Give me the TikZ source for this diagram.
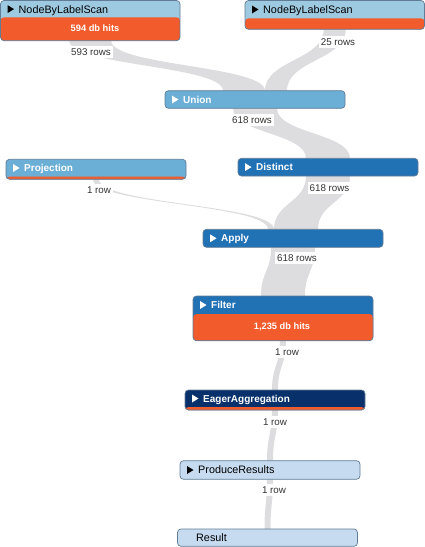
\documentclass[tikz,border=0pt]{standalone}
\usepackage{fontspec}
\setmainfont{Liberation Sans}
\usetikzlibrary{calc}
\pgfdeclarelayer{bg}
\pgfsetlayers{bg,main}
\definecolor{hdrlight}{HTML}{9ECAE1}
\definecolor{hitcol}{HTML}{F25B2B}
\definecolor{midblue}{HTML}{6BAED6}
\definecolor{darkblue}{HTML}{2171B5}
\definecolor{navy}{HTML}{08306B}
\definecolor{pale}{HTML}{C6DBEF}
\definecolor{flowcol}{HTML}{DDDDDF}
\definecolor{boxborder}{HTML}{607C96}
\definecolor{rowtext}{HTML}{333333}
\tikzset{
  opbox/.style={draw=boxborder, line width=0.7pt, rounded corners=3.5pt, anchor=north west,
    inner sep=0pt, outer sep=0pt, minimum width=180pt},
  hitband/.style={path picture={\fill[hitcol] ([yshift=-#1]path picture bounding box.north west)
    rectangle (path picture bounding box.south east);}},
  titleW/.style={anchor=west, text=white, font=\fontsize{10}{12}\selectfont\bfseries,
    inner sep=0pt, text height=7.2pt, text depth=0pt},
  titleK/.style={anchor=west, text=black, font=\fontsize{10.8}{13}\selectfont,
    inner sep=0pt, text height=7.8pt, text depth=0pt},
  hitsty/.style={text=white, font=\fontsize{9.3}{11}\selectfont\bfseries, inner sep=0pt,
    text height=6.8pt, text depth=0pt},
  rowsty/.style={text=rowtext, fill=white, font=\fontsize{9.8}{12}\selectfont, inner xsep=2pt,
    inner ysep=2.5pt, text height=7pt, text depth=0pt},
  flow/.style={fill=flowcol},
  pics/play/.style={code={\fill[#1] (0pt,4pt) -- (6.5pt,0pt) -- (0pt,-4pt) -- cycle;}}
}
\newcommand\optitle[5]{%
  \pic at ($(#1.north west)+(7pt,-#2)$) {play=#4};
  \node[title#3] (#1-t) at ($(#1.north west)+(18pt,-#2)$) {#5};}
\newcommand\flowband[3]{%
  \fill[flow] let \p1=#1, \p2=#2, \p3=($#1!0.5!#2$) in
   (\x1-#3/2,\y1) .. controls (\x1-#3/2,\y3) and (\x2-#3/2,\y3) .. (\x2-#3/2,\y2)
   -- (\x2+#3/2,\y2) .. controls (\x2+#3/2,\y3) and (\x1+#3/2,\y3) .. (\x1+#3/2,\y1) -- cycle;}
\begin{document}
\begin{tikzpicture}[x=1pt,y=-1pt]
\useasboundingbox (0,0) rectangle (425,547);
% boxes
\node[opbox, minimum width=179.5pt, minimum height=40.2pt, fill=hdrlight, hitband=16.8pt] (scanA) at (0.5,0.5) {};
\node[opbox, minimum width=179.5pt, minimum height=28.8pt, fill=hdrlight, hitband=17.8pt] (scanB) at (245,0.5) {};
\node[opbox, minimum height=17.6pt, fill=midblue] (union) at (165,90.7) {};
\node[opbox, minimum height=20pt, fill=midblue, hitband=17.4pt] (proj) at (6,159.3) {};
\node[opbox, minimum height=17.7pt, fill=darkblue] (distinct) at (238,158.3) {};
\node[opbox, minimum height=18pt, fill=darkblue] (apply) at (203,229.3) {};
\node[opbox, minimum height=44.7pt, fill=darkblue, hitband=18pt] (filter) at (193,296) {};
\node[opbox, minimum height=20pt, fill=navy, hitband=17pt] (eager) at (185,390) {};
\node[opbox, minimum height=18.6pt, fill=pale] (produce) at (180,460.7) {};
\node[opbox, minimum height=17.3pt, fill=pale] (result) at (177.5,529) {};
% titles
\optitle{scanA}{8.6pt}{K}{black}{NodeByLabelScan}
\optitle{scanB}{9pt}{K}{black}{NodeByLabelScan}
\optitle{union}{8.8pt}{W}{white}{Union}
\optitle{proj}{8.7pt}{W}{white}{Projection}
\optitle{distinct}{8.8pt}{W}{white}{Distinct}
\optitle{apply}{9pt}{W}{white}{Apply}
\optitle{filter}{9pt}{W}{white}{Filter}
\optitle{eager}{8.5pt}{W}{white}{EagerAggregation}
\optitle{produce}{9.3pt}{K}{black}{ProduceResults}
\node[titleK] (result-t) at ($(result.north west)+(18.5pt,-9pt)$) {Result};
% db hits
\node[hitsty] (scanA-h) at (95,28.5) {594 db hits};
\node[hitsty] (filter-h) at (282,326.5) {1,235 db hits};
% flows
\begin{pgfonlayer}{bg}
\flowband{(scanA.south)}{([xshift=-11pt]union.north)}{42pt}
\flowband{(scanB.south)}{([xshift=21pt]union.north)}{22pt}
\flowband{(union.south)}{(distinct.north)}{44pt}
\flowband{(proj.south)}{([xshift=-22pt]apply.north)}{6pt}
\flowband{(distinct.south)}{([xshift=3pt]apply.north)}{44pt}
\flowband{(apply.south)}{(filter.north)}{44pt}
\flowband{(filter.south)}{(eager.north)}{6pt}
\flowband{(eager.south)}{(produce.north)}{6pt}
\flowband{(produce.south)}{(result.north)}{6pt}
\end{pgfonlayer}
% row labels
\node[rowsty] (scanA-r) at (91,52) {593 rows};
\node[rowsty] (scanB-r) at (338,41.5) {25 rows};
\node[rowsty] (union-r) at (252,120) {618 rows};
\node[rowsty] (proj-r) at (99,189.5) {1 row};
\node[rowsty] (distinct-r) at (329.5,188) {618 rows};
\node[rowsty] (apply-r) at (297,258) {618 rows};
\node[rowsty] (filter-r) at (287,351.5) {1 row};
\node[rowsty] (eager-r) at (275,422) {1 row};
\node[rowsty] (produce-r) at (274,490) {1 row};
\end{tikzpicture}
\end{document}
